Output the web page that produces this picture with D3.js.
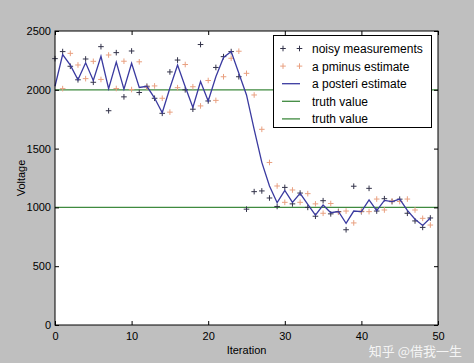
<!DOCTYPE html>
<html>
<head>
<meta charset="utf-8">
<script src="https://cdn.jsdelivr.net/npm/d3@7"></script>
<style>
	body { margin: 0; background: #bfbfbf; }
	svg { display: block; font-family: "Liberation Sans", Arial, sans-serif; }
</style>
</head>
<body>
<div id="chart"></div>
<script>
// values
var iterations = d3.range(0, 50);
var measurements = [2265, 2325, 2200, 2085, 2262, 2064, 2367, 1822, 2316, 1940,
	2330, 1977, 2030, 1928, 1800, 2152, 2253, 2000, 1835, 2385,
	1905, 2190, 2282, 2325, 2111, 985, 1134, 1140, 1080, 1008,
	1170, 1030, 1122, 1000, 925, 1057, 945, 965, 810, 1180,
	964, 1162, 969, 1074, 1049, 1070, 950, 885, 830, 910];
var pminus = [null, 2010, 2310, 2211, 2095, 2242, 2088, 2296, 2011, 2243,
	2002, 2238, 2022, 2033, 1928, 1810, 2018, 2215, 2026, 1863,
	2079, 1910, 2111, 2268, 2328, 2140, 1956, 1664, 1382, 1182,
	1043, 1148, 1043, 1117, 1030, 950, 1033, 960, 969, 868,
	968, 964, 1071, 978, 1055, 1050, 1071, 978, 907, 850];
var posteri = [2030, 2300, 2210, 2085, 2230, 2080, 2285, 2010, 2235, 2005,
	2225, 2020, 2030, 1930, 1805, 2015, 2210, 2026, 1850, 2070,
	1905, 2111, 2275, 2325, 2140, 1956, 1664, 1383, 1182, 1040,
	1145, 1043, 1120, 1025, 935, 1020, 955, 965, 865, 969,
	964, 1063, 972, 1060, 1050, 1071, 975, 900, 847, 910];
var truthValues = [2000, 1000];
var legendLabels = ["noisy measurements", "a pminus estimate", "a posteri estimate", "truth value", "truth value"];
var xTicks = [0, 10, 20, 30, 40, 50];
var yTicks = [0, 500, 1000, 1500, 2000, 2500];

var width = 474, height = 363;
var marginTop = 31, marginBottom = 38, marginLeft = 55, marginRight = 36;

var svg = d3.select("#chart").append("svg").attr("width", width).attr("height", height);
svg.append("rect").attr("width", width).attr("height", height).attr("fill", "#bfbfbf");

var x = d3.scaleLinear().domain([0, 50]).range([marginLeft, width - marginRight]);
var y = d3.scaleLinear().domain([0, 2500]).range([height - marginBottom, marginTop]);

// axes background
svg.append("rect")
	.attr("x", x(0)).attr("y", y(2500))
	.attr("width", x(50) - x(0)).attr("height", y(0) - y(2500))
	.attr("fill", "#fff");

var black = "#33334a", orange = "#e9a080", blue = "#3a3aa0", green = "#3f8a3f";

// truth lines
svg.selectAll(".truth")
	.data(truthValues)
	.enter()
	.append("line")
	.attr("x1", x(0)).attr("x2", x(50))
	.attr("y1", (d) => y(d)).attr("y2", (d) => y(d))
	.attr("stroke", green).attr("stroke-width", 1.3);

function plus(sel, px, py, color) {
	var s = 2.8;
	sel.append("path")
		.attr("d", `M${px - s},${py}H${px + s}M${px},${py - s}V${py + s}`)
		.attr("stroke", color).attr("stroke-width", 1).attr("fill", "none");
}

var marks = svg.append("g");
measurements.forEach(function (v, i) {
	plus(marks, x(iterations[i]), y(v), black);
});
pminus.forEach(function (v, i) {
	if (v != null) plus(marks, x(iterations[i]), y(v), orange);
});

// posterior line
svg.append("path")
	.datum(posteri)
	.attr("fill", "none")
	.attr("stroke", blue)
	.attr("stroke-width", 1.3)
	.attr("d", d3.line().x((d, i) => x(iterations[i])).y((d) => y(d)));

// axes: ticks inward on every side
var fmt = d3.format("d");
var gl = svg.append("g").attr("transform", `translate(${x(0)},0)`)
	.call(d3.axisLeft(y).tickValues(yTicks).tickFormat(fmt).tickSize(-4).tickPadding(4));
var gb = svg.append("g").attr("transform", `translate(0,${y(0)})`)
	.call(d3.axisBottom(x).tickValues(xTicks).tickFormat(fmt).tickSize(-4).tickPadding(5));
var gr = svg.append("g").attr("transform", `translate(${x(50)},0)`)
	.call(d3.axisRight(y).tickValues(yTicks).tickSize(-4).tickFormat(""));
var gt = svg.append("g").attr("transform", `translate(0,${y(2500)})`)
	.call(d3.axisTop(x).tickValues(xTicks).tickSize(-4).tickFormat(""));
[gl, gb, gr, gt].forEach(function (g) {
	g.select(".domain").remove();
	g.selectAll(".tick line").attr("stroke", "#000");
	g.selectAll("text").attr("font-size", 11).attr("fill", "#000")
		.attr("font-family", "Liberation Sans, Arial, sans-serif");
});
gb.selectAll("text").attr("dy", "0.9em");

svg.append("rect")
	.attr("x", x(0)).attr("y", y(2500))
	.attr("width", x(50) - x(0)).attr("height", y(0) - y(2500))
	.attr("fill", "none").attr("stroke", "#000").attr("stroke-width", 1);

// axis labels
svg.append("text")
	.attr("x", (x(0) + x(50)) / 2).attr("y", 354)
	.attr("text-anchor", "middle").attr("font-size", 11)
	.text("Iteration");
svg.append("text")
	.attr("transform", `translate(25,${(y(0) + y(2500)) / 2}) rotate(-90)`)
	.attr("text-anchor", "middle").attr("font-size", 11)
	.text("Voltage");

// legend
var legend = svg.append("g");
legend.append("rect")
	.attr("x", 273.5).attr("y", 35.5).attr("width", 158).attr("height", 92)
	.attr("fill", "#fff").attr("stroke", "#000").attr("stroke-width", 1);
var legendColors = [black, orange, blue, green, green];
legendLabels.forEach(function (label, i) {
	var ly = 48.5 + i * 17.6;
	if (i < 2) {
		plus(legend, 283, ly, legendColors[i]);
		plus(legend, 299.5, ly, legendColors[i]);
	} else {
		legend.append("line")
			.attr("x1", 282).attr("x2", 300).attr("y1", ly).attr("y2", ly)
			.attr("stroke", legendColors[i]).attr("stroke-width", 1.3);
	}
	legend.append("text")
		.attr("x", 312).attr("y", ly + 4.5)
		.attr("font-size", 12).attr("fill", "#000")
		.text(label);
});

// watermark
svg.append("text")
	.attr("x", 462).attr("y", 356)
	.attr("text-anchor", "end").attr("font-size", 13)
	.attr("font-family", "Noto Sans CJK SC, sans-serif")
	.attr("fill", "#fff").attr("fill-opacity", 0.85)
	.text("知乎 @借我一生");
</script>
</body>
</html>
